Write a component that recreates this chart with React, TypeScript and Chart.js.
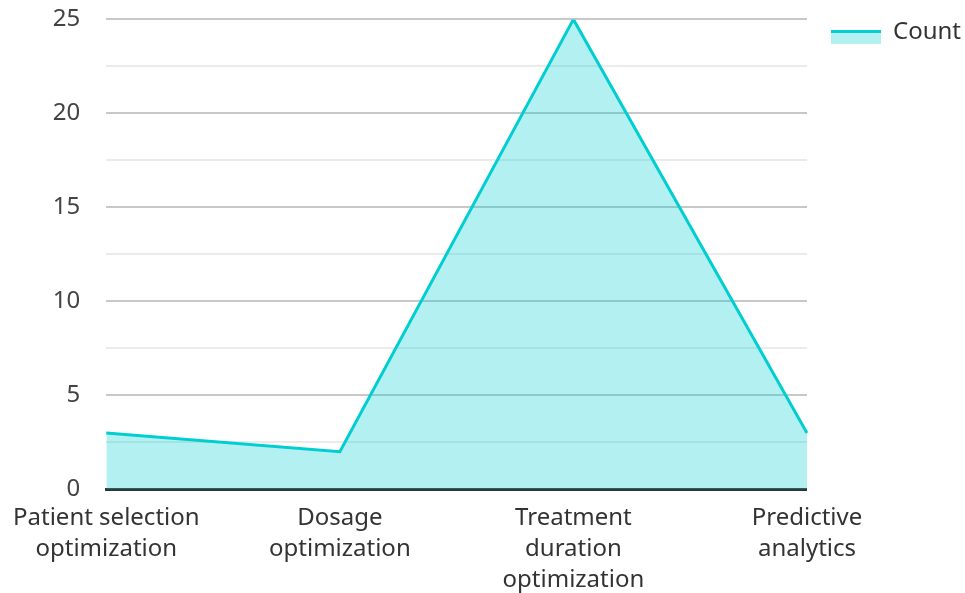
import React, { useEffect, useRef } from "react";
import { Chart, registerables } from "chart.js";

Chart.register(...registerables);

const categories: string[][] = [
  ["Patient selection", "optimization"],
  ["Dosage", "optimization"],
  ["Treatment", "duration", "optimization"],
  ["Predictive", "analytics"],
];
const countValues: number[] = [3, 2, 25, 3];
const seriesLabel = "Count";
const lineColor = "rgb(0,206,209)";
const fillColor = "rgba(0,206,209,0.3)";
const FONT = "'Noto Sans', sans-serif";

function makeLegendIcon(): HTMLCanvasElement {
  const c = document.createElement("canvas");
  c.width = 64;
  c.height = 24;
  const ctx = c.getContext("2d")!;
  ctx.fillStyle = fillColor;
  ctx.fillRect(14, 10, 50, 14);
  ctx.fillStyle = lineColor;
  ctx.fillRect(14, 10, 50, 3);
  return c;
}

export default function App() {
  const ref = useRef<HTMLCanvasElement | null>(null);
  useEffect(() => {
    if (!ref.current) return;
    const icon = makeLegendIcon();
    const chart = new Chart(ref.current, {
      type: "line",
      data: {
        labels: categories,
        datasets: [
          {
            label: seriesLabel,
            data: countValues,
            borderColor: lineColor,
            backgroundColor: fillColor,
            borderWidth: 3,
            fill: "origin",
            tension: 0,
            pointRadius: 0,
            pointHoverRadius: 0,
            pointStyle: icon as any,
          },
        ],
      },
      options: {
        animation: false,
        responsive: false,
        maintainAspectRatio: false,
        layout: { padding: { top: 10, right: -6, left: -16, bottom: -16 } },
        font: { family: FONT, size: 24 },
        plugins: {
          tooltip: { enabled: false },
          legend: {
            position: "right",
            align: "start",
            labels: {
              usePointStyle: true,
              pointStyleWidth: 64,
              color: "#333",
              font: { family: FONT, size: 24 },
              padding: 10,
            },
          },
        },
        scales: {
          x: {
            offset: false,
            grid: { display: false, drawTicks: false },
            border: { color: "#333", width: 3 },
            ticks: {
              color: "#333",
              padding: 13,
              maxRotation: 0,
              autoSkip: false,
              font: { family: FONT, size: 24, lineHeight: 1.3 },
            },
          },
          y: {
            min: 0,
            max: 25,
            grid: {
              drawTicks: true,
              tickLength: 21,
              tickColor: "rgba(0,0,0,0)",
              color: (ctx: any) =>
                ctx.tick && ctx.tick.value % 5 === 0 ? "#c8c8c8" : "#ebebeb",
              lineWidth: 2,
            },
            border: { display: false },
            ticks: {
              stepSize: 2.5,
              padding: 5,
              color: "#444",
              font: { family: FONT, size: 24 },
              callback: (v: any) => (Number(v) % 5 === 0 ? String(v) : ""),
            },
          },
        },
      },
    });
    return () => chart.destroy();
  }, []);
  return (
    <div style={{ position: "fixed", left: 0, top: 0, width: 965, height: 593, background: "#fff" }}>
      <canvas ref={ref} width={965} height={593} style={{ width: 965, height: 593 }} />
    </div>
  );
}
